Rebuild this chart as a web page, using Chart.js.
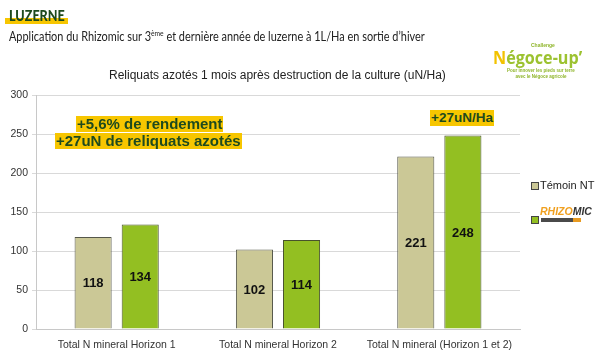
<!DOCTYPE html>
<html>
<head>
<meta charset="utf-8">
<script src="https://cdn.jsdelivr.net/npm/chart.js@4"></script>
<style>
  body { margin: 0; background: #fff; }
  #wrap { position: relative; width: 600px; height: 353px; overflow: hidden; font-family: "Liberation Sans", Arial, sans-serif; }
  #myChart { position: absolute; left: 0; top: 0; }
  .abs { position: absolute; white-space: nowrap; }
  .hl { background: #f7c600; color: #1e4a1e; font-weight: bold; font-size: 15px; line-height: 16px; padding: 0 1px; }
</style>
</head>
<body>
<div id="wrap">
  <canvas id="myChart" width="600" height="353"></canvas>

  <div class="abs" style="left:5px; top:18px; width:63px; height:6px; background:#f7c600;"></div>
  <div class="abs" style="left:9px; top:6px; font-family:Lato, sans-serif; font-weight:900; font-size:15px; color:#1e4a1e; transform:scaleX(0.84); transform-origin:left;">LUZERNE</div>
  <div class="abs" style="left:9px; top:28px; font-family:Lato, sans-serif; font-size:13px; color:#222; transform:scaleX(0.84); transform-origin:left;">Application du Rhizomic sur 3<sup style="font-size:8px;">ème</sup> et dernière année de luzerne à 1L/Ha en sortie d’hiver</div>

  <div class="abs" style="left:531px; top:42px; font-size:5px; color:#8fb52a; font-weight:bold;">Challenge</div>
  <div class="abs" style="left:493px; top:46px; font-size:17px; font-weight:bold; color:#9cc230; font-family:'Open Sans', sans-serif; transform:scaleX(0.95); transform-origin:left;"><span style="color:#f2c200;">N</span>égoce-up’</div>
  <div class="abs" style="left:507px; top:68px; font-size:4.5px; color:#8fb52a; font-weight:bold; text-align:center; line-height:6px;">Pour innover les pieds sur terre<br>avec le Négoce agricole</div>

  <div class="abs" style="left:109px; top:68px; font-size:12px; color:#222;">Reliquats azotés 1 mois après destruction de la culture (uN/Ha)</div>

  <div class="abs hl" style="left:76px; top:116px;">+5,6% de rendement</div>
  <div class="abs hl" style="left:55px; top:133px;">+27uN de reliquats azotés</div>
  <div class="abs hl" style="left:430px; top:110px; font-size:13.5px;">+27uN/Ha</div>

  <div class="abs" style="left:531px; top:182px; width:6px; height:6px; background:#cbc896; border:1px solid #444;"></div>
  <div class="abs" style="left:540px; top:179px; font-size:11px; color:#222;">Témoin NT</div>
  <div class="abs" style="left:531px; top:216px; width:6px; height:6px; background:#93bf22; border:1px solid #444;"></div>
  <div class="abs" style="left:540px; top:205px; font-size:10.5px; font-weight:bold; font-style:italic; color:#f0a020;">RHIZO<span style="color:#333;">MIC</span></div>
  <div class="abs" style="left:541px; top:218px; width:32px; height:4px; background:#4a4a4a; border-right:8px solid #e89a20;"></div>
</div>

<script>
  var categories = ["Total N mineral Horizon 1", "Total N mineral Horizon 2", "Total N mineral (Horizon 1 et 2)"];
  var temoinValues = [118, 102, 221];
  var rhizomicValues = [134, 114, 248];
  var yTicks = [0, 50, 100, 150, 200, 250, 300];

  // writes the value in the middle of each bar
  var barValues = {
    id: "barValues",
    afterDatasetsDraw: function (chart) {
      var ctx = chart.ctx;
      ctx.save();
      ctx.font = "bold 13px 'Liberation Sans', Arial";
      ctx.fillStyle = "#111";
      ctx.textAlign = "center";
      ctx.textBaseline = "middle";
      chart.data.datasets.forEach(function (ds, i) {
        chart.getDatasetMeta(i).data.forEach(function (bar, j) {
          ctx.fillText(ds.data[j], bar.x, (bar.y + bar.base) / 2 + 1);
        });
      });
      ctx.restore();
    }
  };

  var myChart = new Chart("myChart", {
    type: "bar",
    data: {
      labels: categories,
      datasets: [{
        label: "Témoin NT",
        data: temoinValues,
        backgroundColor: "#cbc896",
        borderColor: "#55574a",
        borderWidth: 1
      }, {
        label: "RHIZOMIC",
        data: rhizomicValues,
        backgroundColor: "#93bf22",
        borderColor: "#48522c",
        borderWidth: 1
      }]
    },
    options: {
      responsive: false,
      animation: false,
      layout: { padding: { left: 0, top: 95, right: 80, bottom: 0 } },
      plugins: {
        legend: { display: false },
        tooltip: { enabled: false }
      },
      datasets: {
        bar: { categoryPercentage: 0.584, barPercentage: 0.787 }
      },
      scales: {
        x: {
          grid: { display: false },
          border: { display: true, color: "#c8c8c8" },
          ticks: { color: "#333", font: { size: 10.5, family: "'Liberation Sans', Arial" }, padding: 2, maxRotation: 0 },
          afterFit: function (scale) { scale.height = 24; }
        },
        y: {
          min: 0,
          max: 300,
          afterBuildTicks: function (scale) {
            scale.ticks = yTicks.map(function (v) { return { value: v }; });
          },
          grid: { color: "#d9d9d9", tickLength: 4 },
          border: { display: true, color: "#c8c8c8" },
          ticks: { color: "#333", font: { size: 10.5, family: "'Liberation Sans', Arial" }, padding: 4 },
          afterFit: function (scale) { scale.width = 36; }
        }
      }
    },
    plugins: [barValues]
  });
</script>
</body>
</html>
